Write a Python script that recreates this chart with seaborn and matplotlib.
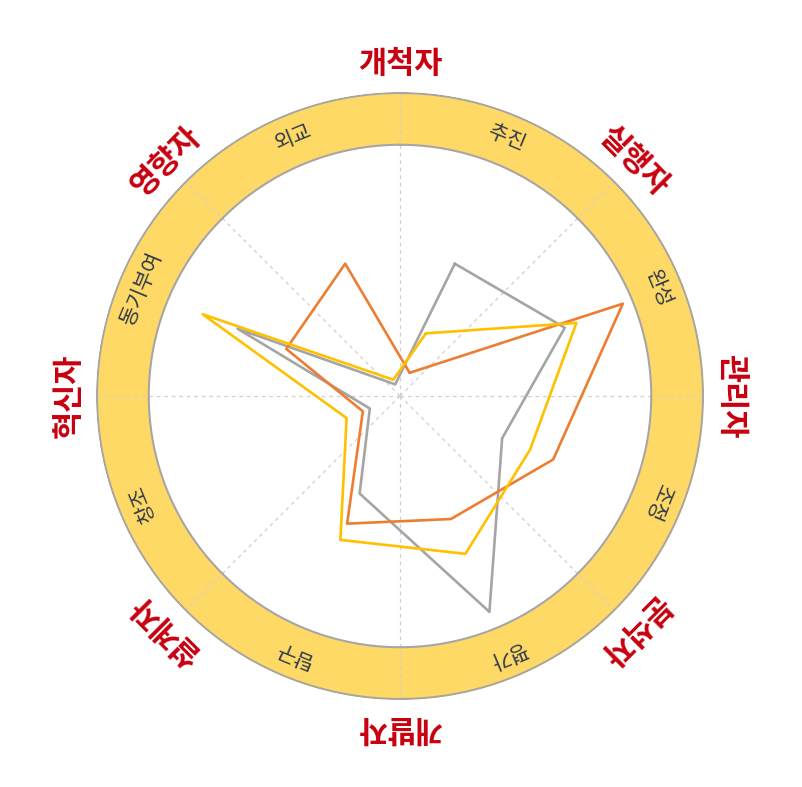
import numpy as np
import pandas as pd
import matplotlib
matplotlib.use("Agg")
import matplotlib.pyplot as plt
import seaborn as sns

# 역할(바깥)과 역량(안쪽) 라벨
roles = ["개척자", "실행자", "관리자", "분석자", "개발자", "설계자", "혁신자", "영향자"]
skills = ["추진", "완성", "조정", "평가", "탐구", "창조", "동기부여", "외교"]

# 세 사람의 점수 (0~100)
gray_vals = [57, 71, 44, 93, 42, 13, 70, 5]
orange_vals = [10, 96, 66, 53, 55, 16, 49, 57]
yellow_vals = [27, 76, 56, 68, 62, 23, 85, 7]
series_names = ["A", "B", "C"]
series_colors = ["#A5A5A5", "#ED7D31", "#FFC000"]

sns.set_style("white")
plt.rcParams["font.family"] = ["Noto Sans CJK KR", "DejaVu Sans"]

R_IN, R_OUT = 100, 121

skill_theta = np.deg2rad(22.5 + 45 * np.arange(len(skills)))
role_theta = np.deg2rad(45 * np.arange(len(roles)))

rows = []
for name, vals in zip(series_names, [gray_vals, orange_vals, yellow_vals]):
    th = list(skill_theta) + [skill_theta[0] + 2 * np.pi]
    vv = list(vals) + [vals[0]]
    for t, v in zip(th, vv):
        rows.append({"theta": t, "score": v, "who": name})
df = pd.DataFrame(rows)

fig = plt.figure(figsize=(8.02, 7.87), dpi=100)
cx, cy, rad = 400, 396, 304
ax = fig.add_axes([(cx - rad) / 802, (787 - cy - rad) / 787, 2 * rad / 802, 2 * rad / 787],
                  projection="polar")
ax.set_theta_zero_location("N")
ax.set_theta_direction(-1)
ax.set_ylim(0, R_OUT)
ax.grid(False)
ax.set_xticks([])
ax.set_yticks([])
ax.spines["polar"].set_visible(False)

# 노란 띠
ring = np.linspace(0, 2 * np.pi, 400)
ax.fill_between(ring, R_IN, R_OUT, color="#FFD966", zorder=1, lw=0)
ax.plot(ring, np.full_like(ring, R_IN), color="#A6A6A6", lw=1.5, zorder=3)
ax.plot(ring, np.full_like(ring, R_OUT - 0.4), color="#A6A6A6", lw=1.5, zorder=3)

# 점선 방사선
for t in role_theta:
    ax.plot([t, t], [0, R_OUT], color="#D0D0D0", lw=0.9, ls=(0, (3, 3)), zorder=2)

sns.lineplot(data=df, x="theta", y="score", hue="who", hue_order=series_names,
             palette=series_colors, sort=False, estimator=None, lw=1.9,
             legend=False, ax=ax, zorder=4)
ax.set_xlabel("")
ax.set_ylabel("")

for t, s in zip(skill_theta, skills):
    ax.text(t, 111.3, s, rotation=-np.rad2deg(t), rotation_mode="anchor",
            ha="center", va="center", fontsize=15, color="#2F3B4C", zorder=5)

for t, s in zip(role_theta, roles):
    ax.text(t, 132, s, rotation=-np.rad2deg(t), rotation_mode="anchor",
            ha="center", va="center", fontsize=22, fontweight="bold",
            color="#C8000F", clip_on=False, zorder=5)

fig.savefig("out.png", dpi=100, facecolor="white")
